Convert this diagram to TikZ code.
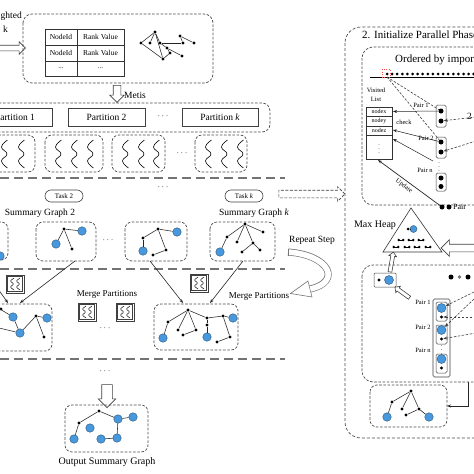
\documentclass[tikz,border=0pt]{standalone}
\usepackage{fontspec}
\setmainfont{Liberation Serif}
\usetikzlibrary{shapes.arrows,shapes.geometric,arrows.meta}
\definecolor{nodeblue}{RGB}{72,152,222}
\begin{document}
\begin{tikzpicture}[x=1pt,y=-1pt,
 kn/.style={circle,fill=black,inner sep=0pt,minimum size=3.2pt},
 kb/.style={circle,fill=black,inner sep=0pt,minimum size=5pt},
 bn/.style={circle,fill=nodeblue,draw=nodeblue!55!black,line width=0.4pt,inner sep=0pt,minimum size=8.5pt},
 ed/.style={draw=black!85,line width=0.55pt},
 dbox/.style={draw=black!70,dash pattern=on 2.6pt off 1.6pt,line width=0.7pt,rounded corners=7pt},
 sepline/.style={draw=black!55,dash pattern=on 9pt off 5pt,line width=1.3pt},
 harrow/.style={single arrow,draw=black!75,fill=white,line width=0.6pt,inner xsep=0pt},
 txt/.style={inner sep=0pt,font=\fontsize{9.5}{11}\selectfont},
 small/.style={inner sep=0pt,font=\fontsize{7}{8}\selectfont},
 tiny/.style={inner sep=0pt,font=\fontsize{6}{7}\selectfont},
 conn/.style={draw=black!85,line width=0.6pt,-{Stealth[length=4pt,width=3pt]}},
 dconn/.style={draw=black!75,dash pattern=on 2.5pt off 1.5pt,line width=0.6pt,-{Stealth[length=4pt,width=3pt]}},
 squig/.pic={\draw[line width=0.6pt] plot[smooth,tension=0.8] coordinates {(3.5,0) (-2.5,7) (3,14) (-2.5,21) (3.5,28)};},
 icon/.pic={\draw[line width=0.6pt,draw=black!75] (-9,-9) rectangle (9,9);
   \draw[line width=0.4pt,draw=black!75] (-7.5,-7.5) rectangle (7.5,7.5);
   \draw[line width=0.5pt,rounded corners=1.2pt] (-1,-6) -- (-5,-3) -- (-1,0) -- (-5,3) -- (-1,6);
   \draw[line width=0.5pt,rounded corners=1.2pt] (5,-6) -- (1,-3) -- (5,0) -- (1,3) -- (5,6);},
 bowtie/.pic={\fill (-2.2,0) circle (1.4pt); \fill (2.2,0) circle (1.4pt); \draw[line width=0.6pt] (-2.2,0) -- (2.2,0);}
]
\useasboundingbox (0,0) rectangle (474,474);
\clip (0,0) rectangle (474,474);
\fill[white] (0,0) rectangle (474,474);

% ---------- top-left input ----------
\node[txt,anchor=east] (wt) at (22,16) {ghted};
\node[txt,anchor=east] (wk) at (8,29) {k};
\node[harrow,inner ysep=2.5pt,single arrow head extend=3.5pt,minimum width=12pt,minimum height=29pt] (inarrow) at (9.5,48) {};
\draw[dbox,rounded corners=9pt] (23,14) rectangle (213,83);
\draw[line width=0.6pt,black!80] (45,29) rectangle (124,76) (77,29) -- (77,76) (45,45) -- (124,45) (45,61) -- (124,61);
\node[small,font=\fontsize{7.5}{8}\selectfont] (t11) at (61,37) {NodeId};
\node[small,font=\fontsize{7.5}{8}\selectfont] (t12) at (100.5,37) {Rank Value};
\node[small,font=\fontsize{7.5}{8}\selectfont] (t21) at (61,53) {NodeId};
\node[small,font=\fontsize{7.5}{8}\selectfont] (t22) at (100.5,53) {Rank Value};
\node[small] (t31) at (61,68) {...};
\node[small] (t32) at (100.5,68) {...};
\foreach \n/\x/\y in {ga/155/32,gb/141/43,gc/150/43,gd/160/43,ge/180/36,gf/183/43,gg/194/43,gh/167/48,gi/170/53,gj/163/59,gk/182/56}
  \node[kn] (\n) at (\x,\y) {};
\foreach \a/\b in {ga/gb,ga/gc,ga/gd,gb/gj,ga/gj,gd/gf,ge/gf,ge/gg,gh/gk,gh/gi,gi/gj,gd/gh}
  \draw[ed] (\a) -- (\b);

% Metis
\node[harrow,rotate=-90,inner ysep=3.5pt,single arrow head extend=3.5pt,minimum width=14pt,minimum height=17pt] (metisarrow) at (117,92) {};
\node[txt,anchor=west] (metis) at (124,95) {Metis};

% partitions
\draw[dbox,rounded corners=8pt] (-10,103) rectangle (270,132);
\draw[line width=0.6pt,black!75] (-25,108) rectangle (52,126);
\draw[line width=0.6pt,black!75] (68,108) rectangle (145,126);
\draw[line width=0.6pt,black!75] (182,108) rectangle (258,126);
\node[txt] (p1) at (15,117) {Partition 1};
\node[txt] (p2) at (106.5,117) {Partition 2};
\node[txt] (pd) at (163,116) {$\cdots$};
\node[txt] (pk) at (220,117) {Partition \textit{k}};

% wavy boxes
\draw[dbox] (-20,135) rectangle (35,172);
\draw[dbox] (45,135) rectangle (103,172);
\draw[dbox] (112,135) rectangle (165,172);
\draw[dbox] (195,135) rectangle (247,172);
\foreach \x in {4,21,58,74,90,125,141,156,208,224,240}
  \pic at (\x,140) {squig};
\node[txt] (wd) at (182,153) {$\cdots$};

\draw[sepline] (0,178) -- (285,178);

% tasks
\node[small,draw=black!75,line width=0.6pt,rounded corners=6pt,minimum width=38pt,minimum height=12pt] (task2) at (64,196) {Task 2};
\node[txt] (td) at (163,187) {$\cdots$};
\node[small,draw=black!75,line width=0.6pt,rounded corners=6pt,minimum width=38pt,minimum height=12pt] (taskk) at (244,196) {Task \textit{k}};
\node[single arrow,draw=black!75,dash pattern=on 3pt off 1.5pt,line width=0.6pt,inner xsep=0pt,inner ysep=3.5pt,single arrow head extend=3.5pt,minimum width=14pt,minimum height=66pt] (taskarrow) at (310,194) {};

\node[txt] (sg2) at (40,213) {Summary Graph 2};
\node[txt] (sgk) at (254,213) {Summary Graph \textit{k}};

% summary graph boxes
\draw[dbox] (-30,222) rectangle (8,260);
\node[bn] (s1a) at (0,256) {};
\draw[dbox] (36,222) rectangle (96,261);
\draw[dbox] (125,222) rectangle (187,261);
\draw[dbox] (210,222) rectangle (275,261);
\node[txt] (sd) at (108,240) {$\cdots$};
\foreach \n/\x/\y/\s in {s2a/64/229/kn,s2b/82/231/bn,s2c/56/244/bn,s2d/72/249/kn,
  s3a/158/229/kn,s3b/177/232/bn,s3c/143/238/kn,s3d/143/251/bn,s3e/166/250/kn,s3f/153/255/kn,
  ta/245/224/kn,tb/263/232/kn,tc/227/237/kn,td2/237/242/kn,te/253/243/kn,tf/242/252/kn,tg/220/252/bn,th/260/250/kn}
  \node[\s] (\n) at (\x,\y) {};
\foreach \a/\b in {s2a/s2b,s2a/s2c,s2a/s2d,s3c/s3a,s3a/s3b,s3a/s3e,s3e/s3f,s3c/s3d,
  ta/tb,ta/tc,tc/tg,ta/td2,ta/te,te/tf,te/th}
  \draw[ed] (\a) -- (\b);

% repeat step
\node[txt] (rs) at (312,240) {Repeat Step};
\fill[white,draw=black!55,line width=0.6pt] (290.5,293.5) -- (312,297) -- (308,281) -- cycle;
\draw[black!55,line width=7pt] (288,252) .. controls (330,255) and (342,282) .. (310,289);
\draw[white,line width=5.6pt] (287.5,252) .. controls (330,255) and (342,282) .. (310.3,289);
\draw[black!55,line width=0.6pt] (288,248.5) -- (288,255.5);

\draw[sepline] (0,269) -- (285,269);

% merge
\pic at (15,284) {icon};
\pic at (199,283) {icon};
\node[txt,font=\fontsize{9}{10}\selectfont] (mp1) at (107,294) {Merge Partitions};
\node[txt,font=\fontsize{9}{10}\selectfont] (mp2) at (259,296) {Merge Partitions};
\pic at (87,312) {icon};
\pic at (125,312) {icon};
\node[txt] (md) at (105,328) {$\cdots$};

\draw[dbox] (-20,304) rectangle (52,351);
\coordinate (lo1) at (-5,306);
\coordinate (lo2) at (-5,327);
\foreach \n/\x/\y/\s in {l1/1/309/kn,l2/13/317/bn,l3/20/333/bn,l4/36/316/kn,l5/47/318/bn,l6/44/337/kn}
  \node[\s] (\n) at (\x,\y) {};
\foreach \a/\b in {lo1/l2,l2/l3,lo2/l3,l3/l4,l4/l5,l4/l6}
  \draw[ed] (\a) -- (\b);
\coordinate (la) at (75,261);
\coordinate (lb) at (20,303);
\coordinate (lc) at (-2,289);
\coordinate (ld) at (8,303);
\draw[conn] (la) -- (lb);
\draw[conn] (lc) -- (ld);

\draw[dbox] (154,304) rectangle (238,350);
\foreach \n/\x/\y/\s in {m0/188/310/kn,m1/168/322/kn,mb1/163/338/bn,m2/178/330/kn,m3/196/330/kn,m4/183/335/kn,
  m5/207/318/kn,m6/223/316/kn,mb2/233/318/bn,m7/207/325/kn,mb3/207/337/bn,m8/230/337/kn,m9/217/342/kn}
  \node[\s] (\n) at (\x,\y) {};
\foreach \a/\b in {m0/m1,m1/mb1,m0/m2,m0/m3,m3/m4,m0/m5,m5/m6,m6/mb2,m5/m7,m7/mb3,m6/m8,m8/m9}
  \draw[ed] (\a) -- (\b);
\coordinate (ra) at (150,261);
\coordinate (rb) at (183,303);
\coordinate (rc) at (243,261);
\coordinate (rd) at (210,303);
\draw[conn] (ra) -- (rb);
\draw[conn] (rc) -- (rd);

\draw[sepline] (0,359) -- (285,359);
\node[txt] (od) at (105,371) {$\cdots$};
\node[harrow,rotate=-90,inner ysep=5pt,single arrow head extend=3.5pt,minimum width=17pt,minimum height=23pt] (outarrow) at (107,393.5) {};
\draw[dbox] (65,405) rectangle (148,452);
\foreach \n/\x/\y/\s in {o1/74/439/bn,o2/79/423/kn,o3/99/411/kn,o4/118/419/bn,o5/133/417/bn,o6/90/428/bn,o7/101/439/bn,o8/117/438/bn}
  \node[\s] (\n) at (\x,\y) {};
\foreach \a/\b in {o1/o2,o2/o3,o3/o4,o4/o5,o4/o8,o8/o7}
  \draw[ed] (\a) -- (\b);
\node[txt,font=\fontsize{10}{11}\selectfont] (osg) at (107,462) {Output Summary Graph};

% ---------- right panel ----------
\draw[dbox,dash pattern=on 3pt off 2pt,rounded corners=16pt] (345,27) rectangle (520,438);
\node[txt,anchor=west,font=\fontsize{11}{12}\selectfont] (phase) at (362,35) {2. Initialize Parallel Phase};
\draw[dbox,rounded corners=11pt] (362,47) rectangle (520,205);
\node[txt,anchor=west,font=\fontsize{11}{12}\selectfont] (ordered) at (395,60) {Ordered by importance};
\draw[line width=0.6pt] (370,77) -- (474,77);
\foreach \i in {0,...,17}
  \fill (387+5.1*\i,74) circle (1.5pt);
\draw[red!70,dotted,line width=0.5pt] (382,69) rectangle (390,77);
\coordinate (redsq) at (387,77);
\node[tiny,font=\fontsize{6.5}{7}\selectfont] (vis) at (376,90) {Visited};
\node[tiny,font=\fontsize{6.5}{7}\selectfont] (lst) at (376,99) {List};
\draw[line width=0.6pt,black!80] (366,107) rectangle (392,159) (366,116) -- (392,116) (366,126) -- (392,126) (366,135) -- (392,135);
\node[tiny] (nx) at (379,111.5) {nodex};
\node[tiny] (ny) at (379,121) {nodey};
\node[tiny] (nz) at (379,130.5) {nodez};
\node[tiny] (nv) at (379,146) {$\vdots$};
\coordinate (tx) at (393,111.5);
\coordinate (tz) at (393,130);
\coordinate (tb) at (393,139);
\coordinate (tu) at (378,160);

\draw[line width=0.5pt,rounded corners=1.5pt,black!75] (436,105) rectangle (446,127);
\draw[line width=0.5pt,rounded corners=1.5pt,black!75] (436,137) rectangle (446,158);
\draw[line width=0.5pt,rounded corners=1.5pt,black!75] (436,173) rectangle (446,191);
\node[kb] (u1a) at (441,111) {};
\node[kb] (u1b) at (441,121) {};
\node[kb] (u2a) at (441,142) {};
\node[kb] (u2b) at (441,152) {};
\node[kb] (una) at (441,178) {};
\node[kb] (unb) at (441,186.5) {};
\node[tiny] (uvd) at (439,164) {$\vdots$};
\node[tiny,font=\fontsize{6.5}{7}\selectfont] (pr1) at (421,105) {Pair 1};
\node[tiny,font=\fontsize{6.5}{7}\selectfont] (chk) at (404,122) {check};
\node[tiny,font=\fontsize{6.5}{7}\selectfont] (pr2) at (426,138) {Pair 2};
\node[tiny,font=\fontsize{6.5}{7}\selectfont] (prn) at (425,170) {Pair n};
\draw[conn,line width=0.5pt] (u1a) -- (tx);
\draw[conn,line width=0.5pt] (u2a) -- (tz);
\coordinate (pnl) at (433,161);
\draw[conn,line width=0.5pt] (pnl) -- (tb);
\draw[dconn,-] (redsq) -- (u1a);
\draw[dconn,-] (redsq) -- (u2a);
\coordinate (rr1) at (476,117);
\coordinate (rr2) at (476,141);
\draw[dconn] (rr1) -- (u1b);
\draw[dconn] (rr2) -- (u2b);
\node[txt,anchor=west] (two) at (467,116) {2};

\node[kb] (bp1) at (442,207) {};
\node[kb] (bp2) at (449,207) {};
\node[txt,anchor=west,font=\fontsize{8}{9}\selectfont] (bpl) at (453,207) {Pair};
\draw[conn,line width=0.7pt] (bp1) -- (tu);
\node[tiny,font=\fontsize{6.5}{7}\selectfont,rotate=-36] (upd) at (404,186) {Update};

% max heap
\draw[line width=0.6pt,black!80] (411,208) -- (383,252) -- (442,252) -- cycle;
\node[txt,font=\fontsize{10}{11}\selectfont] (mh) at (375,225) {Max Heap};
\node[kn,minimum size=3pt] (hk) at (408,229) {};
\node[bn,minimum size=7pt] (hb) at (413.5,229) {};
\draw[ed] (hk) -- (hb);
\foreach \x in {401,411,421} \pic at (\x,240) {bowtie};
\foreach \x in {396,407,417,428} \pic at (\x,247) {bowtie};
\node[harrow,rotate=180,inner ysep=3.5pt,single arrow head extend=4.5pt,minimum width=16pt,minimum height=40pt] (heaparrow) at (463,248) {};

\draw[line width=0.5pt,black!70,rounded corners=1pt] (374,273) rectangle (396,287);
\node[kn] (sbk) at (379,280) {};
\node[bn,minimum size=9pt] (sbb) at (389,280) {};
\node[harrow,rotate=80,inner ysep=1.6pt,single arrow head extend=2pt,minimum width=7pt,minimum height=20pt] (uparrow) at (391.5,263) {};
\node[harrow,rotate=144,inner ysep=1.6pt,single arrow head extend=2pt,minimum width=7pt,minimum height=18pt] (diagarrow) at (403,293) {};

% lower box
\draw[dbox,rounded corners=11pt] (362,265) rectangle (520,382);
\node[kb] (dd1) at (451,277) {};
\node[diamond,fill=black!55,inner sep=0pt,minimum size=4pt] (dd2) at (459.5,277) {};
\node[kb] (dd3) at (468,277) {};
\draw[line width=0.6pt,rounded corners=1.5pt,black!75] (433,299) rectangle (450,377);
\draw[line width=0.5pt,rounded corners=1.5pt,black!75] (436,302) rectangle (447,321);
\draw[line width=0.5pt,rounded corners=1.5pt,black!75] (436,325) rectangle (447,344);
\draw[line width=0.5pt,rounded corners=1.5pt,black!75] (436,354) rectangle (447,373);
\node[bn,minimum size=9pt] (q1b) at (441.5,308) {};
\node[kn] (q1k) at (441.5,317) {};
\node[bn,minimum size=9pt] (q2b) at (441.5,330) {};
\node[kn] (q2k) at (441.5,339) {};
\node[bn,minimum size=9pt] (qnb) at (441.5,359) {};
\node[kn] (qnk) at (441.5,368) {};
\node[tiny] (qvd) at (441.5,347) {$\vdots$};
\node[tiny,font=\fontsize{6.5}{7}\selectfont] (ql1) at (423,302) {Pair 1};
\node[tiny,font=\fontsize{6.5}{7}\selectfont] (ql2) at (423,327) {Pair 2};
\node[tiny,font=\fontsize{6.5}{7}\selectfont] (qln) at (423,350) {Pair n};
\coordinate (qr1) at (474,292);
\coordinate (qr2) at (476,317);
\coordinate (qr3) at (474,299);
\coordinate (qr4) at (476,333);
\draw[dconn] (qr1) -- (q1b);
\draw[dconn] (qr2) -- (q1k);
\draw[dconn] (qr3) -- (q2b);
\draw[dconn] (qr4) -- (q2k);

% bottom graph
\draw[dbox] (370,385) rectangle (447,427);
\foreach \n/\x/\y/\s in {w0/411/391/kn,w1/392/402/kn,w2/387/417/bn,w3/402/409/kn,w4/406/415/kn,w5/419/409/kn,w6/429/417/bn}
  \node[\s] (\n) at (\x,\y) {};
\foreach \a/\b in {w0/w1,w1/w2,w0/w3,w0/w5,w5/w6,w5/w4}
  \draw[ed] (\a) -- (\b);
\coordinate (ca) at (468,382);
\coordinate (cb) at (468,406);
\coordinate (cc) at (447,406);
\draw[conn] (ca) -- (cb) -- (cc);
\end{tikzpicture}
\end{document}
